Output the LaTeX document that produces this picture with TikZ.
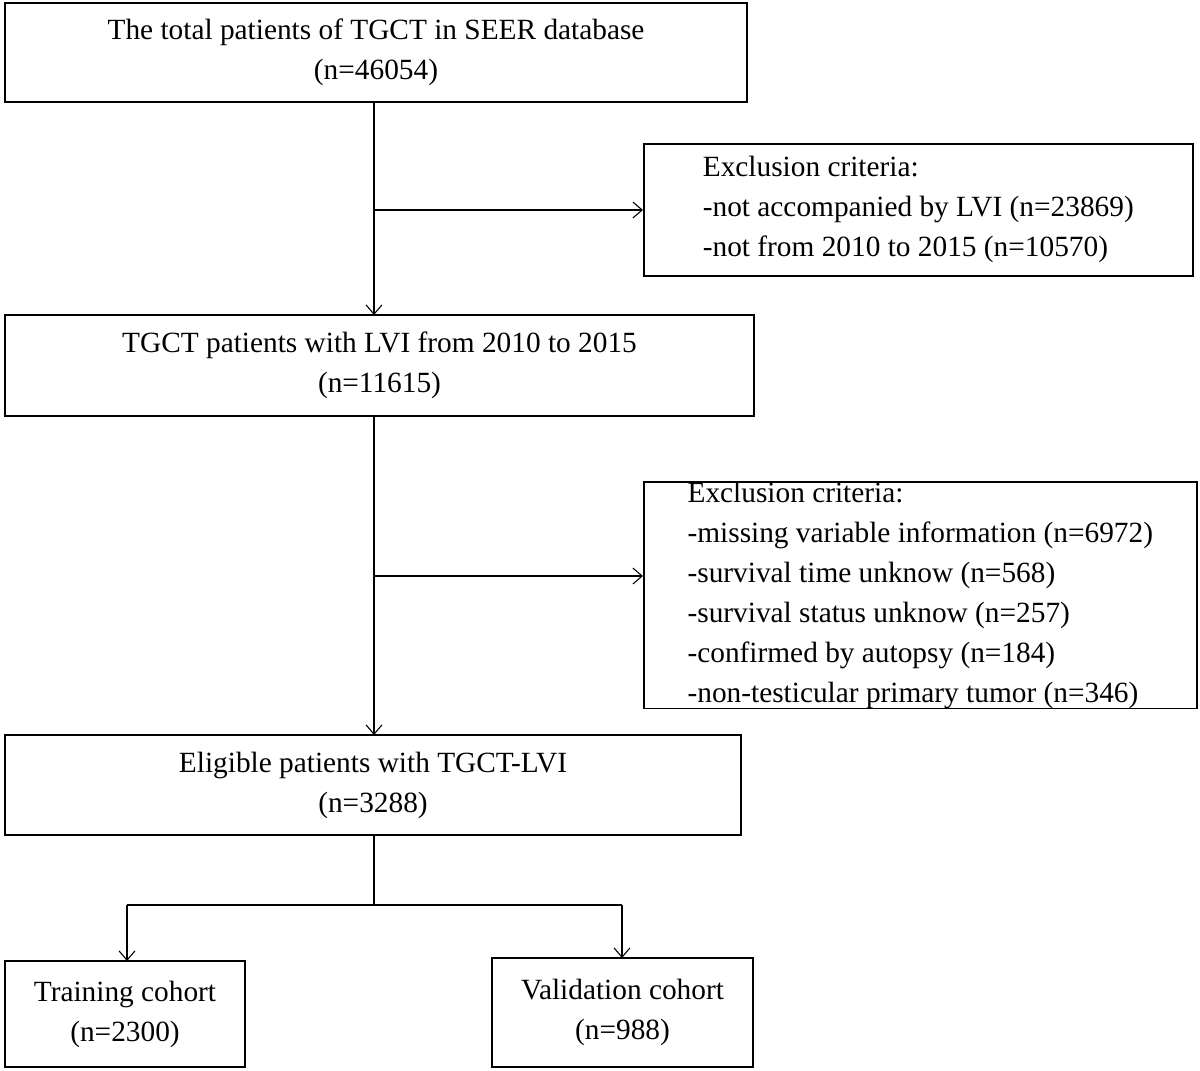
\documentclass[tikz,border=0pt]{standalone}
\usepackage{fontspec}
\setmainfont{Liberation Serif}
\usetikzlibrary{arrows.meta}
\begin{document}
\begin{tikzpicture}[x=0.75pt,y=-0.75pt,
  box/.style={draw,line width=1.2pt,inner sep=0pt,font=\fontsize{22}{30}\selectfont},
  cbox/.style={box,align=center},
  lbox/.style={box,align=left,inner xsep=10pt},
  arr/.style={line width=0.8pt,-{Straight Barb[length=7pt,width=12pt]}},
  ln/.style={line width=0.8pt}]
\useasboundingbox (0,0) rectangle (1200,1071);
\node[cbox,minimum width=742*0.75pt,minimum height=99*0.75pt] (a) at (376,52.5) {The total patients of TGCT in SEER database\\(n=46054)};
\node[lbox,minimum width=549*0.75pt,minimum height=132*0.75pt,anchor=north west] (e1) at (643,143) {Exclusion criteria:\\-not accompanied by LVI (n=23869)\\-not from 2010 to 2015 (n=10570)};
\node[cbox,minimum width=749*0.75pt,minimum height=101*0.75pt] (b) at (379.5,365.5) {TGCT patients with LVI from 2010 to 2015\\(n=11615)};
\node[lbox,minimum width=553*0.75pt,minimum height=221*0.75pt,anchor=north west] (e2) at (643,481) {Exclusion criteria:\\-missing variable information (n=6972)\\-survival time unknow (n=568)\\-survival status unknow (n=257)\\-confirmed by autopsy (n=184)\\-non-testicular primary tumor (n=346)};
\node[cbox,minimum width=736*0.75pt,minimum height=100*0.75pt] (c) at (373,785) {Eligible patients with TGCT-LVI\\(n=3288)};
\node[cbox,minimum width=240*0.75pt,minimum height=106*0.75pt] (t) at (125,1014) {Training cohort\\(n=2300)};
\node[cbox,minimum width=261*0.75pt,minimum height=109*0.75pt] (v) at (622.5,1012.5) {Validation cohort\\(n=988)};
\coordinate (j1) at (374,210);
\coordinate (j2) at (374,576);
\coordinate (j3) at (374,905);
\coordinate (jt) at (127,905);
\coordinate (jv) at (622,905);
\draw[arr] (374,102) -- (374,315);
\draw[arr] (j1) -- (e1.west |- j1);
\draw[arr] (374,416) -- (374,735);
\draw[arr] (j2) -- (e2.west |- j2);
\draw[ln] (374,835) -- (j3);
\draw[ln] (jt) -- (jv);
\draw[arr] (jt) -- (127,961);
\draw[arr] (jv) -- (622,958);
\end{tikzpicture}
\end{document}
